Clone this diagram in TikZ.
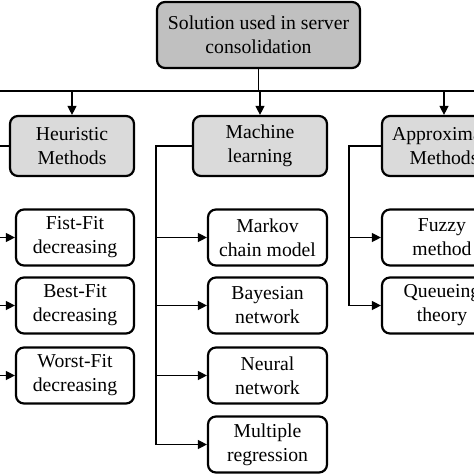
\documentclass[tikz,border=0pt]{standalone}
\usepackage{fontspec}
\setmainfont{Liberation Serif}
\usetikzlibrary{arrows.meta}
\tikzset{>={Triangle[length=9pt,width=9pt]}}
\definecolor{topgray}{RGB}{192,192,192}
\definecolor{levelgray}{RGB}{218,218,218}
\tikzstyle{box}=[draw=black,line width=2.2pt,rounded corners=8pt,align=center,inner sep=0pt,font=\fontsize{19.7}{24}\selectfont]
\tikzstyle{topbox}=[box,fill=topgray,minimum width=203pt,minimum height=66pt]
\tikzstyle{groupbox}=[box,fill=levelgray,minimum height=60pt]
\tikzstyle{leafbox}=[box,fill=white,minimum height=56pt]
\tikzstyle{link}=[draw=black,line width=1.3pt]

\begin{document}
\begin{tikzpicture}[x=1pt,y=-1pt]
    \useasboundingbox (0,0) rectangle (474,474);
    \clip (0,0) rectangle (474,474);
    \node[topbox] (sol) at (258.5,35) {Solution used in server\\consolidation};
    \node[groupbox,minimum width=124pt] (heur) at (72,146) {Heuristic\\Methods};
    \node[groupbox,minimum width=134pt] (ml) at (260,146) {Machine\\learning};
    \node[groupbox,minimum width=124pt] (approx) at (444,146) {Approximate\\Methods};

    % heuristic leaves
    \node[leafbox,minimum width=118pt] (ff) at (75,237.5) {Fist-Fit\\decreasing};
    \node[leafbox,minimum width=118pt] (bf) at (75,305.5) {Best-Fit\\decreasing};
    \node[leafbox,minimum width=118pt] (wf) at (75,375.5) {Worst-Fit\\decreasing};

    % machine learning leaves
    \node[leafbox,minimum width=119pt] (markov) at (267.5,237.5) {Markov\\chain model};
    \node[leafbox,minimum width=119pt] (bayes) at (267.5,305.5) {Bayesian\\network};
    \node[leafbox,minimum width=119pt] (neural) at (267.5,375.5) {Neural\\network};
    \node[leafbox,minimum width=119pt] (multi) at (267.5,444.5) {Multiple\\regression};

    % approximate leaves
    \node[leafbox,minimum width=120pt] (fuzzy) at (442,237.5) {Fuzzy\\method};
    \node[leafbox,minimum width=120pt] (queue) at (442,305.5) {Queueing\\theory};

    \coordinate (busL) at (0,91);
    \coordinate (busR) at (474,91);
    \coordinate (hTrunk) at (-6,0);
    \coordinate (mlTrunk) at (156,0);
    \coordinate (apTrunk) at (349,0);

    \draw[link] (busL) -- (busR);
    \draw[link] (sol.south) -- (sol.south |- busL);
    \foreach \g in {heur,ml,approx}
        \draw[link,->] (\g.north |- busL) -- (\g.north);

    \draw[link] (heur.west) -- (heur.west -| hTrunk) -- (hTrunk |- wf.west);
    \foreach \c in {ff,bf,wf}
        \draw[link,->] (hTrunk |- \c.west) -- (\c.west);

    \draw[link] (ml.west) -- (ml.west -| mlTrunk) -- (mlTrunk |- multi.west);
    \foreach \c in {markov,bayes,neural,multi}
        \draw[link,->] (mlTrunk |- \c.west) -- (\c.west);

    \draw[link] (approx.west) -- (approx.west -| apTrunk) -- (apTrunk |- queue.west);
    \foreach \c in {fuzzy,queue}
        \draw[link,->] (apTrunk |- \c.west) -- (\c.west);
\end{tikzpicture}
\end{document}
